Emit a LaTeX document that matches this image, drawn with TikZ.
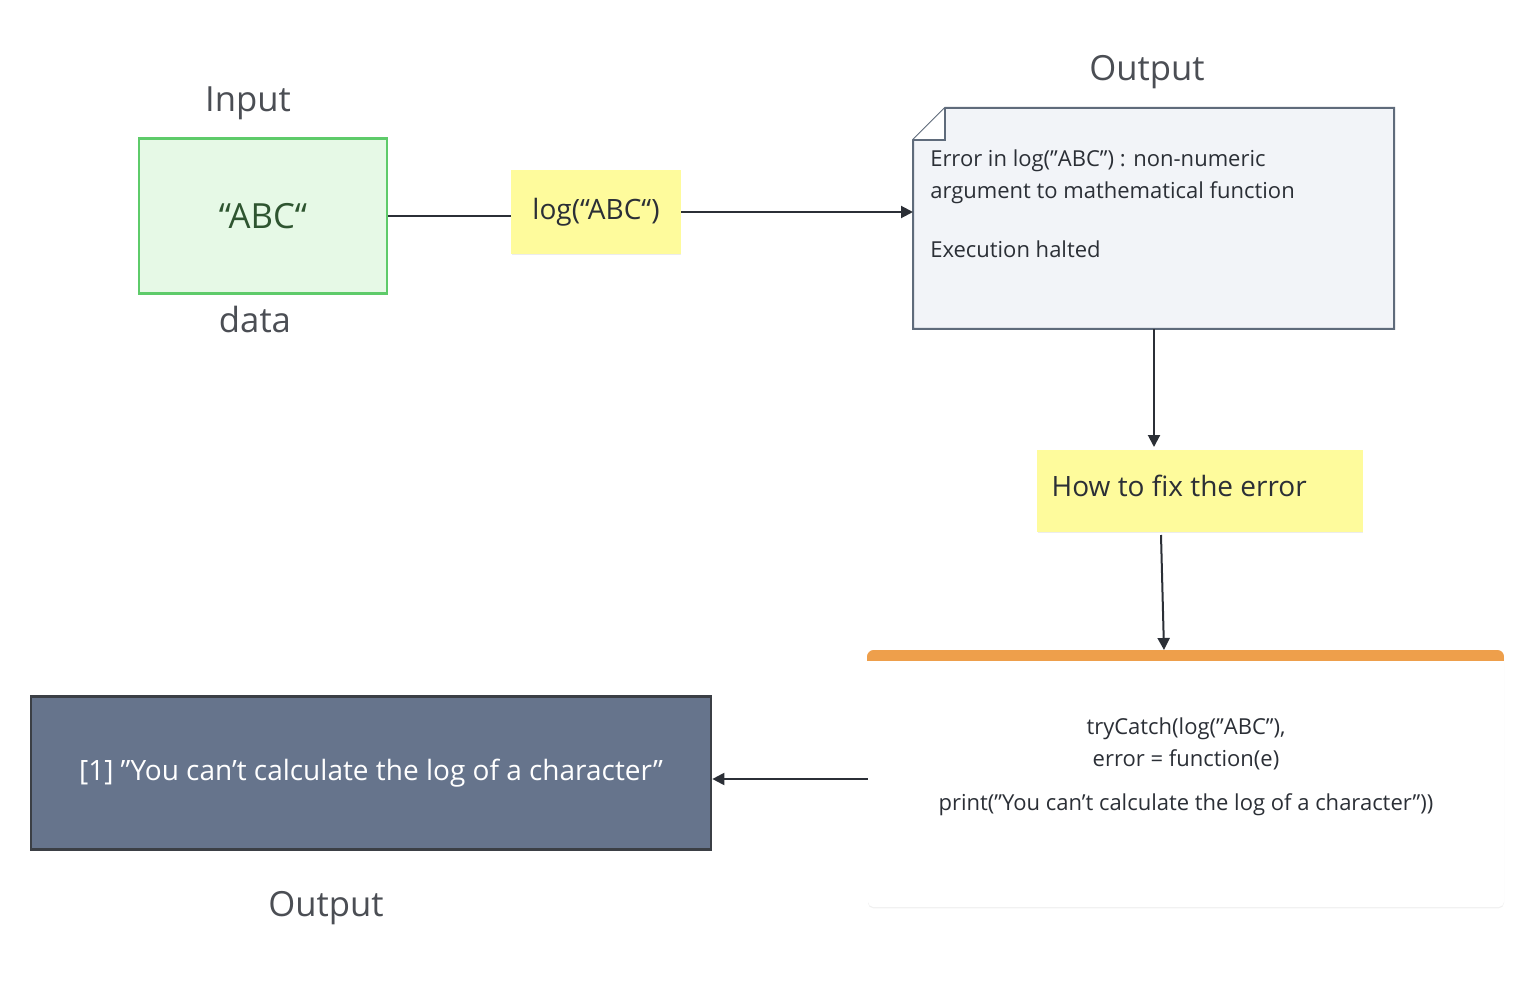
\documentclass[tikz,border=0pt]{standalone}
\usepackage{fontspec}
\setmainfont{Open Sans}
\usetikzlibrary{arrows.meta,shadows}
\definecolor{gfill}{HTML}{E6F9E6}\definecolor{gline}{HTML}{5ECB6A}\definecolor{gtext}{HTML}{2E5530}
\definecolor{yel}{HTML}{FEFB9C}\definecolor{dfill}{HTML}{F2F4F8}\definecolor{dline}{HTML}{5F6B7B}
\definecolor{orng}{HTML}{EE9F4B}\definecolor{slate}{HTML}{66748C}\definecolor{dk}{HTML}{3B3F45}
\definecolor{txt}{HTML}{2B2F36}
\tikzset{
 lbl/.style={font=\fontsize{26}{30}\selectfont,text=txt!85!white},
 note/.style={fill=yel,draw=none,drop shadow={opacity=0.15,shadow xshift=0.5pt,shadow yshift=-0.5pt}},
 arr/.style={line width=1.5pt,draw=txt,-{Triangle[length=9pt,width=9pt]}},
 ln/.style={line width=1.5pt,draw=txt}
}
\begin{document}
\begin{tikzpicture}[x=0.75pt,y=-0.75pt]
\useasboundingbox (0,0) rectangle (1536,991);
\node[lbl] (inl) at (248,103) {Input};
\node[draw=gline,fill=gfill,line width=1.8pt,minimum width=186pt,minimum height=116pt,font=\fontsize{26}{30}\selectfont,text=gtext] (inp) at (263,216) {“ABC“};
\node[lbl] (dat) at (255,320) {data};
\node[note,minimum width=127pt,minimum height=63pt,font=\fontsize{21}{25}\selectfont,text=txt] (fn) at (596,212) {log(“ABC“)};
\node[lbl] (outl) at (1147,72) {Output};
\coordinate (d1) at (945,108);\coordinate (d2) at (1394,108);\coordinate (d3) at (1394,329);\coordinate (d4) at (913,329);\coordinate (d5) at (913,140);
\draw[fill=dfill,draw=dline,line width=1.5pt] (d1)--(d2)--(d3)--(d4)--(d5)--cycle;
\draw[draw=dline,line width=1.2pt,fill=white] (d5)--(945,140)--(d1);
\node[inner sep=0pt,anchor=north west,align=left,font=\fontsize{16.5}{23.5}\selectfont,text=txt] (err) at (930,150) {Error in log("ABC") : non-numeric\\argument to mathematical function\\[21pt]Execution halted};
\coordinate (dn) at (1154,329);
\node[note,minimum width=244pt,minimum height=62pt] (fix) at (1200,491) {};
\node[anchor=west,font=\fontsize{21}{25}\selectfont,text=txt] (fixt) at (1047,486) {How to fix the error};
\node[fill=white,rounded corners=4pt,minimum width=477pt,minimum height=192pt,drop shadow={opacity=0.12,shadow xshift=0pt,shadow yshift=-1pt}] (card) at (1186,779) {};
\begin{scope}
\clip[rounded corners=5pt] (867,650) rectangle (1504,700);
\fill[orng] (867,650) rectangle (1504,661);
\end{scope}
\node[align=center,font=\fontsize{16.5}{23.5}\selectfont,text=txt] (code) at (1186,767) {tryCatch(log("ABC"),\\error = function(e)\\[10pt]print("You can't calculate the log of a character"))};
\node[fill=slate,draw=dk,line width=2pt,minimum width=510pt,minimum height=115pt,font=\fontsize{21}{25}\selectfont,text=white] (res) at (371,773) {[1] "You can't calculate the log of a character"};
\node[lbl] (out2) at (326,908) {Output};
\draw[ln] (inp.east) -- (fn.west|-inp.east);
\draw[arr] (fn.east) -- (d5|-fn.east);
\draw[arr] (dn) -- (1154,447);
\draw[arr] (1161,535) -- (1164,650);
\draw[arr] (card.west) -- (res.east|-card.west);
\end{tikzpicture}
\end{document}
